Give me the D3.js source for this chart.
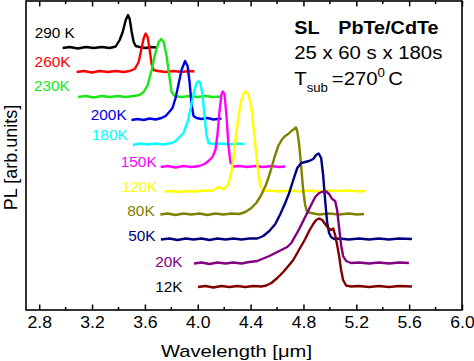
<!DOCTYPE html>
<html>
<head>
<meta charset="utf-8">
<script src="https://cdn.jsdelivr.net/npm/d3@7"></script>
<style>
    body { margin: 0; background: #fff; }
    text { font-family: "Liberation Sans", Arial, sans-serif; }
</style>
</head>
<body>
<div class="container"></div>
<script>
// temperature labels, top to bottom
const temps = ["290 K", "260K", "230K", "200K", "180K", "150K", "120K", "80K", "50K", "20K", "12K"];

// vertical offset of each spectrum (arb. units)
const offsets = [26.25, 23.85, 21.35, 19.1, 16.6, 14.35, 11.9, 9.6, 7.1, 4.7, 2.35];

// spectra: [wavelength (um), PL above own baseline]
const pl290 = [[2.977,-0.05],[3.032,0.05],[3.092,-0.1],[3.153,0.05],[3.213,-0.05],[3.274,0.05],[3.334,-0.05],
    [3.379,0.1],[3.409,0.75],[3.432,1.55],[3.455,2.75],[3.472,3.25],[3.485,2.85],[3.5,1.55],[3.515,0.55],
    [3.53,0.15],[3.56,0.05],[3.606,-0.05],[3.651,0.05],[3.686,0]];
const pl260 = [[3.083,-0.05],[3.138,0.05],[3.198,-0.1],[3.258,0.05],[3.319,-0.05],[3.379,0.05],[3.44,-0.05],
    [3.485,0.05],[3.523,0.25],[3.553,0.95],[3.575,2.35],[3.591,3.35],[3.606,3.8],[3.621,3.45],[3.636,2.15],
    [3.651,0.75],[3.666,0.15],[3.696,0.05],[3.757,-0.05],[3.817,0.05],[3.877,-0.05],[3.938,0.05],[3.975,0]];
const pl230 = [[3.095,-0.05],[3.153,0.05],[3.213,-0.1],[3.274,0.05],[3.334,-0.05],[3.394,0.05],[3.455,-0.05],
    [3.515,0.05],[3.56,0.15],[3.591,0.45],[3.621,1.15],[3.651,2.65],[3.681,4.45],[3.704,5.45],[3.724,5.75],
    [3.742,5.45],[3.764,4.05],[3.787,1.85],[3.802,0.45],[3.825,0.05],[3.877,-0.05],[3.938,0.05],[3.998,-0.05],
    [4.058,0.05],[4.119,-0.05],[4.177,0]];
const pl200 = [[3.498,-0.1],[3.545,0],[3.591,-0.1],[3.636,0.05],[3.681,-0.05],[3.726,0.1],[3.757,0.3],
    [3.787,0.75],[3.809,1.1],[3.832,2.1],[3.855,3.5],[3.877,4.9],[3.904,5.8],[3.923,5.3],[3.938,3.7],
    [3.953,1.5],[3.968,0.3],[3.991,0.1],[4.028,0],[4.074,0.1],[4.119,-0.05],[4.179,0.05]];
const pl180 = [[3.51,-0.1],[3.56,0.05],[3.621,-0.05],[3.681,0.05],[3.742,-0.05],[3.802,0.1],[3.832,0.3],
    [3.862,0.7],[3.892,1.1],[3.923,2.2],[3.953,4.0],[3.975,5.4],[3.991,6.1],[4.006,6.3],[4.021,6.0],
    [4.036,4.9],[4.051,2.9],[4.066,0.9],[4.081,0.1],[4.119,0],[4.179,0.05],[4.24,-0.05],[4.3,0.05],[4.353,0]];
const pl150 = [[3.719,-0.05],[3.772,0.05],[3.832,-0.1],[3.892,0.05],[3.953,-0.05],[4.013,0.05],[4.051,0.25],
    [4.081,0.55],[4.111,0.95],[4.134,1.65],[4.149,3.15],[4.164,5.45],[4.179,7.15],[4.189,7.5],[4.202,7.25],
    [4.217,5.15],[4.232,2.15],[4.247,0.45],[4.27,0],[4.315,0.05],[4.375,-0.05],[4.436,0.05],[4.496,-0.05],
    [4.557,0.05],[4.617,-0.05],[4.662,0]];
const pl120 = [[3.749,-0.05],[3.802,0],[3.862,-0.1],[3.923,0],[3.983,-0.05],[4.043,0.05],[4.104,0],
    [4.134,0.2],[4.164,0.4],[4.187,0.2],[4.209,0.3],[4.232,0.7],[4.255,1.9],[4.277,4.1],[4.3,6.6],
    [4.323,8.7],[4.345,9.7],[4.366,9.95],[4.383,9.7],[4.406,8.3],[4.428,5.6],[4.451,2.6],[4.474,0.5],
    [4.496,0],[4.557,0.05],[4.617,-0.05],[4.692,0.05],[4.768,-0.05],[4.843,0.05],[4.919,-0.05],
    [4.994,0.05],[5.07,0],[5.145,0.05],[5.221,-0.05],[5.271,0]];
const pl80 = [[3.717,-0.05],[3.772,0.05],[3.832,-0.1],[3.892,0.05],[3.953,-0.05],[4.013,0.05],[4.074,-0.1],
    [4.134,0.05],[4.194,-0.05],[4.255,0.05],[4.315,0],[4.36,0.2],[4.406,0.6],[4.443,1.1],[4.481,1.9],
    [4.519,3.0],[4.549,4.2],[4.579,5.6],[4.609,6.8],[4.64,7.5],[4.662,7.8],[4.685,8.0],[4.708,8.3],
    [4.73,8.5],[4.743,8.65],[4.753,8.3],[4.768,6.9],[4.783,4.7],[4.798,2.4],[4.813,0.9],[4.828,0.2],
    [4.858,0.1],[4.919,-0.05],[4.994,0.05],[5.07,-0.05],[5.145,0.05],[5.206,-0.05],[5.258,0]];
const pl50 = [[3.721,-0.05],[3.787,0.05],[3.847,-0.1],[3.908,0.05],[3.968,-0.05],[4.028,0.05],[4.089,-0.1],
    [4.149,0.05],[4.209,-0.05],[4.27,0.05],[4.33,-0.05],[4.391,0.05],[4.451,0.05],[4.496,0.3],[4.542,0.8],
    [4.587,1.5],[4.625,2.5],[4.662,3.6],[4.692,4.6],[4.723,5.9],[4.753,7.1],[4.783,7.6],[4.813,7.7],
    [4.843,7.8],[4.874,8.0],[4.896,8.4],[4.915,8.55],[4.934,8.1],[4.949,6.4],[4.964,3.9],[4.979,1.7],
    [4.994,0.6],[5.009,0.2],[5.032,0],[5.07,0.05],[5.145,-0.05],[5.221,0.05],[5.296,-0.05],[5.372,0.05],
    [5.447,-0.05],[5.523,0.05],[5.621,0]];
const pl20 = [[3.972,-0.05],[4.028,0.05],[4.089,-0.1],[4.149,0.05],[4.209,-0.05],[4.27,0.05],[4.33,-0.05],
    [4.391,0.1],[4.451,0.2],[4.496,0.45],[4.542,0.7],[4.587,1.0],[4.632,1.3],[4.677,1.6],[4.708,2.0],
    [4.738,2.7],[4.768,3.4],[4.798,4.2],[4.828,5.0],[4.858,5.8],[4.889,6.6],[4.919,7.0],[4.949,7.15],
    [4.972,7.15],[4.994,6.9],[5.017,6.4],[5.04,6.2],[5.055,5.3],[5.07,3.5],[5.085,1.8],[5.1,0.7],
    [5.123,0.2],[5.16,0],[5.221,0.05],[5.296,-0.05],[5.372,0.05],[5.447,-0.05],[5.523,0.05],[5.598,0]];
const pl12 = [[4.002,-0.05],[4.058,0.05],[4.119,-0.1],[4.179,0.05],[4.24,-0.05],[4.3,0.05],[4.36,-0.05],
    [4.421,0.05],[4.481,0],[4.519,0.1],[4.557,0.35],[4.602,0.85],[4.647,1.45],[4.692,2.15],[4.723,2.65],
    [4.753,3.35],[4.783,4.05],[4.813,4.75],[4.843,5.55],[4.874,6.25],[4.896,6.65],[4.919,6.8],[4.942,6.65],
    [4.964,6.25],[4.987,5.85],[5.009,5.65],[5.025,5.8],[5.04,5.15],[5.055,4.15],[5.07,3.05],[5.085,1.65],
    [5.1,0.65],[5.123,0.1],[5.16,0],[5.221,0.05],[5.296,-0.05],[5.372,0.05],[5.447,-0.05],[5.523,0.05],[5.621,0]];

const spectra = [pl290, pl260, pl230, pl200, pl180, pl150, pl120, pl80, pl50, pl20, pl12];

// x tick values
const majorTicks = [2.8, 3.2, 3.6, 4.0, 4.4, 4.8, 5.2, 5.6, 6.0];
const minorTicks = [3.0, 3.4, 3.8, 4.2, 4.6, 5.0, 5.4, 5.8];

const colors = ["#000000", "#ff0000", "#19e619", "#0000e6", "#00ffff", "#ff00ff",
    "#ffff00", "#808000", "#000080", "#800080", "#800000"];
const labelColors = colors.slice(0, 10).concat(["#000000"]);

// right end (um) and centre (arb.) of each temperature label
const labelPos = [[3.07, 27.7], [3.037, 24.83], [3.032, 22.4], [3.462, 19.5], [3.47, 17.5], [3.689, 14.83],
    [3.696, 12.27], [3.674, 9.9], [3.681, 7.4], [3.885, 4.83], [3.885, 2.27]];

//Set up chart
const
    svgWidth = 474,
    svgHeight = 361;

const margin = {
    top: 1,
    right: 12,
    bottom: 51,
    left: 26
};

const width = svgWidth - margin.left - margin.right;
const height = svgHeight - margin.top - margin.bottom;

const stretch = "scale(1.1,1)";

const svg = d3
    .select(".container")
    .append("svg")
    .attr("width", svgWidth)
    .attr("height", svgHeight);

const chartGroup = svg.append("g")
    .attr("transform", `translate(${margin.left}, ${margin.top})`);

//Scales
const xScale = d3.scaleLinear()
    .domain([2.7, 6.0])
    .range([0, width]);

const yScale = d3.scaleLinear()
    .domain([0, 30.9])
    .range([height, 0]);

//Spectra
const line = d3.line()
    .x(d => xScale(d[0]))
    .y(d => yScale(d[1]));

chartGroup.selectAll(".spectrum")
    .data(spectra)
    .enter()
    .append("path")
    .attr("class", "spectrum")
    .attr("fill", "none")
    .attr("stroke", (d, i) => colors[i])
    .attr("stroke-width", 2.4)
    .attr("stroke-linejoin", "round")
    .attr("d", (d, i) => line(d.map(p => [p[0], p[1] + offsets[i]])));

//Temperature labels
chartGroup.selectAll(".tlabel")
    .data(temps)
    .enter()
    .append("text")
    .attr("class", "tlabel")
    .attr("transform", (d, i) => `translate(${xScale(labelPos[i][0])}, ${yScale(labelPos[i][1])}) ${stretch}`)
    .attr("text-anchor", "end")
    .attr("dy", "0.36em")
    .attr("font-size", "14px")
    .attr("fill", (d, i) => labelColors[i])
    .text(d => d);

//Axes: bottom with labels, top ticks only
const bottomAxis = d3.axisBottom(xScale)
    .tickValues(majorTicks)
    .tickFormat(d3.format(".1f"))
    .tickSizeInner(-5.5)
    .tickSizeOuter(0);

const xAxis = chartGroup.append("g")
    .attr("transform", `translate(0, ${height})`)
    .call(bottomAxis);
xAxis.select(".domain").remove();
xAxis.selectAll("line").attr("stroke-width", 1.5);
xAxis.selectAll("text")
    .attr("y", 18.3)
    .attr("dy", null)
    .attr("transform", stretch)
    .attr("font-size", "16px")
    .attr("font-family", "Liberation Sans, Arial, sans-serif")
    .attr("fill", "#000");

chartGroup.append("g")
    .attr("transform", `translate(0, ${height})`)
    .selectAll("line")
    .data(minorTicks)
    .enter()
    .append("line")
    .attr("x1", d => xScale(d))
    .attr("x2", d => xScale(d))
    .attr("y1", 0)
    .attr("y2", -3)
    .attr("stroke", "#000")
    .attr("stroke-width", 1.5);

const topAxis = d3.axisTop(xScale)
    .tickValues(majorTicks)
    .tickFormat("")
    .tickSizeInner(-5.5)
    .tickSizeOuter(0);

const xTop = chartGroup.append("g").call(topAxis);
xTop.select(".domain").remove();
xTop.selectAll("line").attr("stroke-width", 1.5);

chartGroup.append("g")
    .selectAll("line")
    .data(minorTicks)
    .enter()
    .append("line")
    .attr("x1", d => xScale(d))
    .attr("x2", d => xScale(d))
    .attr("y1", 0)
    .attr("y2", 3)
    .attr("stroke", "#000")
    .attr("stroke-width", 1.5);

//Frame
chartGroup.append("rect")
    .attr("x", 0)
    .attr("y", 0)
    .attr("width", width)
    .attr("height", height)
    .attr("fill", "none")
    .attr("stroke", "#000")
    .attr("stroke-width", 1.6);

//Axis titles
svg.append("text")
    .attr("x", 161)
    .attr("y", 356.7)
    .attr("font-size", "17px")
    .attr("textLength", 151)
    .attr("lengthAdjust", "spacingAndGlyphs")
    .text("Wavelength [\u03bcm]");

svg.append("text")
    .attr("transform", "translate(17, 157.5) rotate(-90)")
    .attr("text-anchor", "middle")
    .attr("font-size", "18px")
    .text("PL [arb.units]");

//Sample annotation
const note = chartGroup.append("g")
    .attr("transform", `translate(${xScale(4.73)}, 0)`);

note.append("text")
    .attr("transform", `translate(0, 33.3) ${stretch}`)
    .attr("font-size", "18px")
    .attr("font-weight", "bold")
    .text("SL");

note.append("text")
    .attr("transform", `translate(44, 33.3) ${stretch}`)
    .attr("font-size", "18px")
    .attr("font-weight", "bold")
    .text("PbTe/CdTe");

note.append("text")
    .attr("transform", `translate(0, 58.3) ${stretch}`)
    .attr("font-size", "18.5px")
    .text("25 x 60 s x 180s");

const tsub = note.append("text")
    .attr("transform", `translate(0, 84) ${stretch}`)
    .attr("font-size", "18.5px");
tsub.append("tspan").text("T");
tsub.append("tspan")
    .attr("font-size", "12px")
    .attr("dy", 6.5)
    .text("sub");
tsub.append("tspan")
    .attr("dy", -6.5)
    .attr("dx", 3.5)
    .text("=270");
tsub.append("tspan")
    .attr("font-size", "12px")
    .attr("dy", -8)
    .text("0");
tsub.append("tspan")
    .attr("dy", 8)
    .attr("dx", 3)
    .text("C");
</script>
</body>
</html>
